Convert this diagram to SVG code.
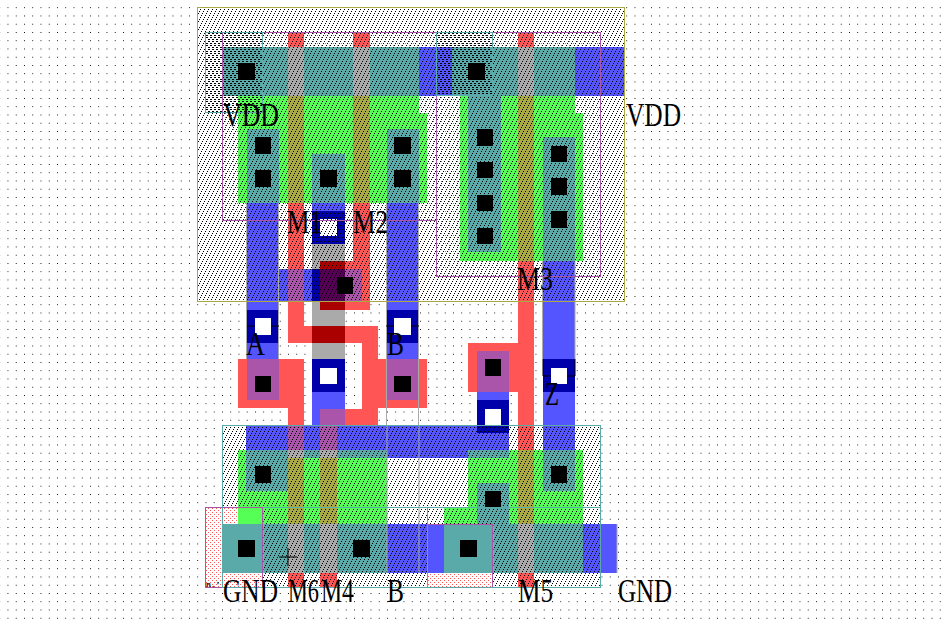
<svg xmlns="http://www.w3.org/2000/svg" width="945" height="620" viewBox="0 0 945 620">
<style>
.m{fill:#5555ff}.t{fill:#5aaaaa}.g{fill:#55ff55}.p{fill:#ff5555}.o{fill:#aaaa44}.y{fill:#aaaaaa}.v{fill:#aa55aa}.d{fill:#0000aa}.r{fill:#aa0000}.b{fill:#000}.w{fill:#fff}
.e{fill:none;stroke:#aaaaaa;stroke-width:1}
.lb{font-family:"Liberation Serif",serif;font-size:33px;fill:#000;stroke:none}
pattern rect{shape-rendering:crispEdges}
</style>
<defs>
<pattern id="grid" x="7.5" y="7.25" width="8.25" height="8.25" patternUnits="userSpaceOnUse"><rect width="1" height="1" fill="#000"/></pattern>
<pattern id="hatch" x="197" y="7" width="8" height="8" patternUnits="userSpaceOnUse"><g fill="#000"><rect x="0" y="0" width="1" height="1"/><rect x="4" y="0" width="1" height="1"/><rect x="3" y="2" width="1" height="1"/><rect x="7" y="2" width="1" height="1"/><rect x="2" y="4" width="1" height="1"/><rect x="6" y="4" width="1" height="1"/><rect x="1" y="6" width="1" height="1"/><rect x="5" y="6" width="1" height="1"/></g></pattern>
<pattern id="wave" x="205" y="33" width="8" height="8" patternUnits="userSpaceOnUse"><g fill="#000"><rect x="0" y="0" width="1" height="1"/><rect x="4" y="0" width="1" height="1"/><rect x="1" y="2" width="1" height="1"/><rect x="5" y="2" width="1" height="1"/><rect x="2" y="4" width="1" height="1"/><rect x="6" y="4" width="1" height="1"/><rect x="3" y="6" width="1" height="1"/><rect x="7" y="6" width="1" height="1"/></g></pattern>
<pattern id="low" x="222" y="425" width="8" height="8" patternUnits="userSpaceOnUse"><g fill="#000"><rect x="1" y="0" width="1" height="1"/><rect x="5" y="0" width="1" height="1"/><rect x="4" y="2" width="1" height="1"/><rect x="0" y="2" width="1" height="1"/><rect x="3" y="4" width="1" height="1"/><rect x="7" y="4" width="1" height="1"/><rect x="2" y="6" width="1" height="1"/><rect x="6" y="6" width="1" height="1"/></g></pattern>
<pattern id="reddots" x="0" y="0" width="8" height="8" patternUnits="userSpaceOnUse"><g fill="#ff5555"><rect width="1" height="1"/><rect x="4" width="1" height="1"/><rect x="2" y="2" width="1" height="1"/><rect x="6" y="2" width="1" height="1"/><rect y="4" width="1" height="1"/><rect x="4" y="4" width="1" height="1"/><rect x="2" y="6" width="1" height="1"/><rect x="6" y="6" width="1" height="1"/></g></pattern>
<pattern id="reddots2" x="0" y="0" width="8" height="8" patternUnits="userSpaceOnUse"><g fill="#ff5555"><rect x="1" y="1" width="1" height="1"/><rect x="5" y="3" width="1" height="1"/><rect x="1" y="5" width="1" height="1"/><rect x="5" y="7" width="1" height="1"/></g></pattern>
</defs>
<rect width="945" height="620" fill="#fff"/>
<rect width="945" height="620" fill="url(#grid)"/>
<rect x="197" y="7" width="428" height="295" fill="#fff"/>
<rect x="222" y="425" width="379" height="163" fill="#fff"/>
<rect x="205" y="507" width="58" height="81" fill="#fff"/>
<rect x="222" y="32" width="215" height="189" fill="url(#reddots2)"/>
<rect x="437" y="32" width="164" height="245" fill="url(#reddots2)"/>
<rect x="205" y="507" width="58" height="81" fill="url(#reddots)"/>
<rect x="427" y="524" width="66" height="64" fill="url(#reddots)"/>
<g id="metal">
<rect class="m" x="222" y="47" width="403" height="49"/>
<rect class="m" x="247" y="203" width="32" height="156"/>
<rect class="m" x="387" y="203" width="32" height="156"/>
<rect class="m" x="312" y="203" width="33" height="8"/>
<rect class="m" x="279" y="269" width="83" height="33"/>
<rect class="m" x="312" y="392" width="33" height="33"/>
<rect class="m" x="477" y="392" width="32" height="8"/>
<rect class="m" x="543" y="261" width="32" height="189"/>
<rect class="m" x="246" y="425" width="263" height="33"/>
<rect class="m" x="222" y="524" width="395" height="49"/>
</g>
<g id="diffusion">
<polygon class="g" points="238,96 419,96 419,113 427,113 427,203 238,203"/>
<polygon class="g" points="460,96 575,96 575,113 583,113 583,261 460,261"/>
<rect class="g" x="238" y="450" width="149" height="74"/>
<polygon class="g" points="468,450 583,450 583,524 444,524 444,507 468,507"/>
</g>
<g id="poly">
<rect class="p" x="288" y="32" width="16" height="310"/>
<rect class="p" x="353" y="32" width="17" height="278"/>
<rect class="p" x="320" y="261" width="50" height="49"/>
<rect class="p" x="518" y="32" width="16" height="556"/>
<rect class="p" x="288" y="326" width="90" height="17"/>
<rect class="p" x="362" y="326" width="16" height="99"/>
<polygon class="p" points="238,359 304,359 304,425 304,588 288,588 288,408 238,408"/>
<rect class="p" x="362" y="359" width="65" height="49"/>
<rect class="p" x="320" y="409" width="58" height="16"/>
<rect class="p" x="320" y="425" width="17" height="163"/>
<rect class="p" x="468" y="343" width="50" height="49"/>
</g>
<g id="diff-metal">
<rect class="t" x="222" y="47" width="197" height="49"/>
<rect class="t" x="452" y="47" width="123" height="49"/>
<rect class="t" x="247" y="129" width="32" height="74"/>
<rect class="t" x="312" y="154" width="33" height="49"/>
<rect class="t" x="387" y="129" width="32" height="74"/>
<rect class="t" x="468" y="96" width="33" height="156"/>
<rect class="t" x="543" y="137" width="32" height="124"/>
<rect class="t" x="246" y="450" width="141" height="8"/>
<rect class="t" x="246" y="458" width="42" height="33"/>
<rect class="t" x="468" y="450" width="41" height="8"/>
<rect class="t" x="543" y="450" width="32" height="41"/>
<rect class="t" x="477" y="483" width="32" height="41"/>
<rect class="t" x="222" y="524" width="165" height="49"/>
<rect class="t" x="444" y="524" width="139" height="49"/>
</g>
<g id="gates">
<rect class="y" x="288" y="47" width="16" height="49"/><rect class="y" x="353" y="47" width="17" height="49"/><rect class="y" x="518" y="47" width="16" height="49"/>
<rect class="o" x="288" y="96" width="16" height="107"/><rect class="o" x="353" y="96" width="17" height="107"/><rect class="o" x="518" y="96" width="16" height="165"/>
<rect class="y" x="288" y="450" width="16" height="8"/><rect class="y" x="320" y="450" width="17" height="8"/>
<rect class="o" x="288" y="458" width="16" height="66"/><rect class="o" x="320" y="458" width="17" height="66"/><rect class="o" x="518" y="450" width="16" height="74"/>
<rect class="y" x="288" y="524" width="16" height="49"/><rect class="y" x="320" y="524" width="17" height="49"/><rect class="y" x="518" y="524" width="16" height="49"/>
</g>
<g id="poly-metal">
<rect class="v" x="288" y="269" width="16" height="33"/>
<rect class="v" x="345" y="269" width="17" height="33"/>
<rect class="v" x="247" y="359" width="32" height="41"/>
<rect class="v" x="387" y="359" width="32" height="41"/>
<rect class="v" x="477" y="351" width="32" height="41"/>
<rect class="v" x="320" y="409" width="25" height="16"/>
<rect class="v" x="288" y="425" width="16" height="25"/>
<rect class="v" x="320" y="425" width="17" height="25"/>
</g>
<g id="via-stack">
<rect class="y" x="312" y="244" width="33" height="115"/>
<rect class="r" x="320" y="261" width="25" height="49"/>
<rect class="r" x="312" y="326" width="33" height="17"/>
<rect class="d" x="312" y="269" width="8" height="33"/>
<rect x="320" y="269" width="25" height="33" fill="#550055"/>
<rect class="d" x="312" y="211" width="33" height="33"/><rect class="w" x="320" y="219" width="17" height="17"/>
<rect class="d" x="312" y="359" width="33" height="33"/><rect class="w" x="320" y="368" width="17" height="16"/>
<rect class="d" x="246" y="310" width="33" height="33"/><rect class="w" x="255" y="318" width="16" height="17"/>
<rect class="d" x="386" y="310" width="33" height="33"/><rect class="w" x="394" y="318" width="17" height="17"/>
<rect class="d" x="543" y="359" width="32" height="33"/><rect class="w" x="551" y="368" width="16" height="16"/>
<rect class="d" x="477" y="400" width="32" height="33"/><rect class="w" x="485" y="409" width="16" height="16"/>
</g>
<g id="contacts" class="b">
<rect x="238" y="63" width="17" height="17"/><rect x="468" y="63" width="17" height="17"/>
<rect x="255" y="137" width="16" height="17"/><rect x="255" y="170" width="16" height="17"/>
<rect x="320" y="170" width="17" height="17"/>
<rect x="394" y="137" width="17" height="17"/><rect x="394" y="170" width="17" height="17"/>
<rect x="477" y="129" width="16" height="17"/><rect x="477" y="162" width="16" height="16"/><rect x="477" y="195" width="16" height="16"/><rect x="477" y="228" width="16" height="16"/>
<rect x="551" y="146" width="16" height="16"/><rect x="551" y="178" width="16" height="17"/><rect x="551" y="211" width="16" height="17"/>
<rect x="337" y="277" width="16" height="17"/>
<rect x="255" y="376" width="16" height="16"/><rect x="394" y="376" width="17" height="16"/><rect x="485" y="359" width="16" height="17"/>
<rect x="255" y="466" width="16" height="17"/><rect x="551" y="466" width="16" height="17"/><rect x="485" y="491" width="16" height="16"/>
<rect x="238" y="540" width="17" height="17"/><rect x="353" y="540" width="17" height="17"/><rect x="460" y="540" width="17" height="17"/>
</g>
<rect x="197" y="7" width="428" height="295" fill="url(#hatch)"/>
<rect x="205" y="32" width="58" height="81" fill="url(#wave)"/>
<rect x="437" y="32" width="56" height="64" fill="url(#wave)"/>
<path fill="url(#low)" fill-rule="evenodd" d="M222 425H601V588H222ZM222 507H263V588H222ZM427 524H493V588H427Z"/>
<g id="outlines" fill="none" stroke-width="1">
<path class="e" d="M246.5 203V359M278.5 203V359M386.500 203V425M418.500 203V425M542.500 261V359M575 261V359M387 425V573M419 425V573M263 507V573M493 524V573M617 524V573"/>
<rect x="222.500" y="32.500" width="214" height="188" stroke="#aa55aa"/>
<rect x="436.500" y="32.500" width="164" height="244" stroke="#aa55aa"/>
<rect x="205.500" y="507.500" width="57" height="80" stroke="#aa55aa"/>
<rect x="427.500" y="524.500" width="65" height="63" stroke="#aa55aa"/>
<rect x="205.500" y="32.500" width="57" height="80" stroke="#5aaaaa"/>
<rect x="436.500" y="32.500" width="56" height="63" stroke="#5aaaaa"/>
<rect x="222.500" y="425.500" width="378" height="162" stroke="#5aaaaa"/>
<path d="M263 507.500H600.500M427.500 507.500V588" stroke="#5aaaaa"/>
<rect x="197.500" y="7.500" width="427" height="294" stroke="#aaaa44"/>
</g>
<g id="ticks" fill="none" stroke="#000" stroke-width="1">
<path d="M247 326H255M271 326H279M386 326H394M411 326H419M543 376H551M567 376H575M543 359V376M575 359V376"/>
<path d="M279 557H297M288 548V566"/>
</g>
<g id="labels">
<text class="lb" x="223" y="126" textLength="56" lengthAdjust="spacingAndGlyphs">VDD</text>
<text class="lb" x="626" y="126" textLength="55" lengthAdjust="spacingAndGlyphs">VDD</text>
<text class="lb" x="287" y="233" textLength="35" lengthAdjust="spacingAndGlyphs">M1</text>
<text class="lb" x="353" y="233" textLength="35" lengthAdjust="spacingAndGlyphs">M2</text>
<text class="lb" x="517" y="290" textLength="36" lengthAdjust="spacingAndGlyphs">M3</text>
<text class="lb" x="246" y="355" textLength="19" lengthAdjust="spacingAndGlyphs">A</text>
<text class="lb" x="387" y="355" textLength="17" lengthAdjust="spacingAndGlyphs">B</text>
<text class="lb" x="545" y="405" textLength="14" lengthAdjust="spacingAndGlyphs">Z</text>
<text class="lb" x="223" y="602" textLength="55" lengthAdjust="spacingAndGlyphs">GND</text>
<text class="lb" x="288" y="602" textLength="31" lengthAdjust="spacingAndGlyphs">M6</text>
<text class="lb" x="321" y="602" textLength="33" lengthAdjust="spacingAndGlyphs">M4</text>
<text class="lb" x="387" y="602" textLength="17" lengthAdjust="spacingAndGlyphs">B</text>
<text class="lb" x="518" y="602" textLength="35" lengthAdjust="spacingAndGlyphs">M5</text>
<text class="lb" x="618" y="602" textLength="54" lengthAdjust="spacingAndGlyphs">GND</text>
<text x="206" y="587" font-family="Liberation Mono, monospace" font-size="8" font-weight="bold" fill="#000">n.'</text>
</g>
</svg>
